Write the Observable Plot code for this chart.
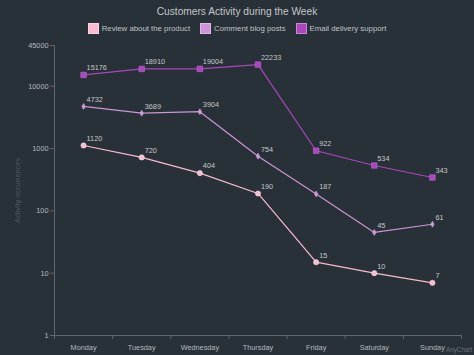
<!DOCTYPE html>
<html><head><meta charset="utf-8">
<script src="https://cdn.jsdelivr.net/npm/d3@7"></script>
<script src="https://cdn.jsdelivr.net/npm/@observablehq/plot@0.6"></script>
<style>
html,body{margin:0;padding:0;background:#283038;width:474px;height:355px;overflow:hidden;font-family:"Liberation Sans",Arial,sans-serif;}
#title{position:absolute;top:5px;left:0;width:474px;text-align:center;color:#c4c6c8;font-size:10.2px;line-height:14px;}
#legend{position:absolute;top:23px;left:0;width:474px;display:flex;justify-content:center;align-items:center;font-size:7.8px;color:#c0c3c6;line-height:10px;}
.item{display:flex;align-items:center;margin:0 5px;}
.sw{width:9px;height:9px;border:0.5px solid rgba(255,255,255,0.35);margin-right:3px;}
#chart{position:absolute;top:38px;left:0;}
#credit{position:absolute;left:446px;top:346px;font-size:6.3px;color:#6a747c;}
</style>
</head><body>
<div id="title"></div>
<div id="legend"></div>
<div id="chart"></div>
<div id="credit">AnyChart</div>
<script>
const title = "Customers Activity during the Week";
const days = ["Monday","Tuesday","Wednesday","Thursday","Friday","Saturday","Sunday"];
const seriesNames = ["Review about the product","Comment blog posts","Email delivery support"];
const seriesColors = ["#f8bbd0","#ce93d8","#ab47bc"];
const review = [1120,720,404,190,15,10,7];
const comment = [4732,3689,3904,754,187,45,61];
const email = [15176,18910,19004,22233,922,534,343];
const yTicks = [1,10,100,1000,10000,45000];
const yLabel = "Activity occurrences";

document.getElementById("title").textContent = title;
const leg = document.getElementById("legend");
seriesNames.forEach((n,k)=>{
  const it = document.createElement("div"); it.className="item";
  const sw = document.createElement("div"); sw.className="sw"; sw.style.background=seriesColors[k];
  const tx = document.createElement("span"); tx.textContent=n;
  it.appendChild(sw); it.appendChild(tx); leg.appendChild(it);
});

const allSeries = [review, comment, email];
const rows = [];
allSeries.forEach((vals,k)=>vals.forEach((v,i)=>rows.push({i, day: days[i], value: v, series: seriesNames[k]})));
const bySeries = k => rows.filter(r=>r.series===seriesNames[k]);

const axisColor = "#5d676f";
const tickText = "#b6babe";
const bounds = d3.range(-0.5, days.length, 1);

const chart = Plot.plot({
  width: 474, height: 317,
  marginTop: 7, marginBottom: 20, marginLeft: 54, marginRight: 13,
  style: {background: "transparent", color: tickText, fontSize: "7.3px", fontFamily: "'Liberation Sans', Arial, sans-serif", overflow: "visible"},
  x: {type: "linear", domain: [-0.5, days.length - 0.5]},
  y: {type: "log", domain: [1, 45000]},
  color: {domain: seriesNames, range: seriesColors},
  marks: [
    Plot.ruleX([-0.5], {stroke: axisColor}),
    Plot.ruleY([1], {stroke: axisColor}),
    Plot.axisY({ticks: yTicks, tickFormat: () => "", tickSize: 4, tickPadding: 2, stroke: axisColor, fill: tickText,
      label: yLabel, labelAnchor: "center", labelArrow: "none", labelOffset: 40}),
    Plot.text(yTicks, {y: d => d, frameAnchor: "left", textAnchor: "end", dx: -6, text: d => String(d), fill: tickText}),
    Plot.axisX({ticks: d3.range(days.length), tickFormat: i => days[i], tickSize: 0, tickPadding: 9, fill: tickText, label: null}),
    Plot.axisX({ticks: bounds, tickFormat: () => "", tickSize: 4, stroke: axisColor, label: null}),
    Plot.line(rows, {x: "i", y: "value", z: "series", stroke: "series", strokeWidth: 1.2}),
    Plot.dot(bySeries(0), {x: "i", y: "value", symbol: "circle", r: 2.6, fill: seriesColors[0], stroke: "#fde3ec", strokeWidth: 0.6}),
    Plot.dot(bySeries(1), {x: "i", y: "value", symbol: "diamond", r: 1.8, fill: seriesColors[1], stroke: "#e2c0ea", strokeWidth: 0.5}),
    Plot.dot(bySeries(2), {x: "i", y: "value", symbol: "square", r: 3.1, fill: seriesColors[2], stroke: "#c46ad4", strokeWidth: 0.6}),
    Plot.text(rows, {x: "i", y: "value", text: d => String(d.value), dx: 3, dy: -7, textAnchor: "start", fill: "#c6c8ca"})
  ]
});
chart.querySelectorAll("g[aria-label='y-axis label']").forEach(e=>{e.setAttribute("fill","#4f5a62");});
document.getElementById("chart").appendChild(chart);
</script>
</body></html>
